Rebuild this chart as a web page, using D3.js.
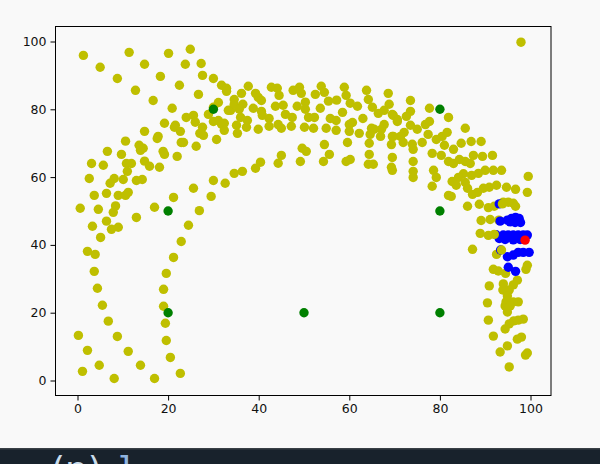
<!DOCTYPE html>
<html>
<head>
<meta charset="utf-8">
<script src="https://cdnjs.cloudflare.com/ajax/libs/d3/7.8.5/d3.min.js"></script>
<style>
html, body { margin: 0; padding: 0; background: #f9f9f9; overflow: hidden; }
svg { display: block; }
text { font-family: "DejaVu Sans", sans-serif; }
</style>
</head>
<body>
<svg id="chart" width="600" height="464"></svg>
<script>
// yellow points under the blue ones
const baseX = [1.3,5.0,8.8,12.8,16.7,20.9,11.4,14.8,18.3,22.5,26.7,20.1,23.8,27.6,24.9,27.3,30.0,31.8,32.9,32.9,31.1,30.0,33.3,28.9,24.0,25.6,26.0,27.6,27.0,27.8,30.0,31.1,31.8,32.4,32.4,30.7,19.2,21.6,21.4,22.7,14.8,10.6,17.8,17.6,22.9,23.4,26.2,22.0,6.6,9.7,13.6,14.5,13.9,18.9,19.2,3.1,5.7,10.8,11.9,11.0,14.8,15.9,18.1,2.6,8.1,7.2,10.1,13.0,14.3,3.7,6.4,9.0,10.6,11.2,30.0,32.6,25.6,21.2,29.5,0.6,4.6,8.4,17.0,26.9,7.9,13.0,6.4,3.3,7.5,9.0,5.1,2.2,3.9,3.7,4.4,5.5,6.8,0.2,8.8,2.2,11.2,4.8,1.1,13.9,8.1,17.0,22.7,20.5,19.6,19.4,19.0,19.0,19.6,21.2,22.9,24.5,37.7,36.2,34.6,33.8,34.6,36.5,35.7,36.0,37.5,37.3,35.1,35.3,39.9,38.8,39.3,39.9,40.6,40.6,40.8,42.3,42.3,44.3,45.0,42.8,44.1,44.5,43.7,45.4,45.9,47.4,47.2,47.6,49.0,49.4,48.5,50.3,50.3,51.0,52.3,50.1,52.1,53.6,52.5,53.8,54.5,55.4,57.2,58.5,55.8,57.1,54.9,57.1,58.9,59.3,60.2,61.8,63.8,64.2,65.1,68.6,68.8,67.7,66.4,69.5,70.6,63.0,60.7,60.0,60.0,62.2,67.7,67.1,64.9,65.5,64.6,66.9,64.4,69.5,69.3,59.6,54.5,49.6,50.5,55.6,45.0,49.2,54.3,44.3,40.4,39.3,36.4,34.6,59.3,60.2,64.4,64.2,65.3,69.5,69.3,69.5,73.5,77.7,81.9,73.5,72.6,69.7,70.6,73.5,75.0,76.8,77.7,72.1,71.3,69.7,71.9,77.4,73.9,76.1,74.1,79.2,80.5,81.6,85.6,81.0,84.7,83.0,86.9,89.1,78.3,80.3,74.1,74.1,74.1,78.6,79.2,78.3,81.9,83.0,84.3,85.6,87.4,86.7,89.4,91.6,90.0,88.5,91.8,93.6,87.0,85.2,84.1,82.7,83.6,85.6,86.1,87.2,82.5,81.9,86.1,88.3,89.6,90.9,92.5,94.7,96.7,99.5,99.3,88.7,90.7,92.0,94.0,95.1,96.2,96.7,89.1,91.1,93.0,88.9,90.7,87.2,92.5,91.8,92.9,94.5,99.0,90.9,94.0,97.1,96.2,95.3,93.9,94.9,90.5,97.3,96.2,94.6,94.4,95.5,94.9,90.7,98.4,97.3,96.3,95.3,94.4,91.8,98.0,97.1,94.9,93.3,99.3,98.9,95.3,97.9];
const baseY = [95.9,92.4,89.1,85.6,82.6,80.3,96.8,93.3,89.7,87.1,84.4,96.5,93.3,90.0,97.7,93.5,89.1,87.1,86.2,85.3,82.0,80.6,79.7,78.5,77.6,78.2,76.2,74.7,72.9,72.3,76.4,76.7,75.6,75.9,73.8,71.1,75.9,75.3,74.7,73.5,73.5,70.6,72.0,71.4,70.2,70.2,69.1,66.1,67.6,66.7,69.4,68.5,67.9,67.6,66.7,64.0,63.5,64.0,64.0,61.7,64.7,63.2,62.9,59.6,59.6,58.2,59.3,59.0,59.3,54.6,55.2,54.6,54.6,55.5,59.0,58.2,56.7,54.0,54.3,50.8,50.5,51.5,51.1,50.1,49.6,48.1,47.0,45.5,44.6,45.2,42.2,38.1,37.2,32.2,27.2,22.2,17.5,13.3,13.0,8.9,8.6,4.5,2.7,4.5,0.6,0.6,2.1,6.8,11.8,16.9,21.9,26.9,31.6,36.3,41.0,45.8,86.8,84.7,82.9,79.7,81.5,81.5,80.0,77.6,76.7,74.7,75.3,72.9,74.1,80.3,84.7,83.5,82.6,79.4,78.2,77.3,75.0,75.5,74.4,86.5,86.2,84.1,80.9,81.2,78.5,77.6,75.0,85.6,86.5,84.7,80.9,82.1,80.0,77.6,77.6,74.7,74.4,80.3,84.4,86.8,85.0,82.4,82.7,79.1,77.3,76.7,74.4,73.8,86.5,84.1,81.8,80.9,85.6,82.9,80.6,84.7,81.5,79.7,78.8,78.5,77.0,77.3,76.1,75.5,73.5,72.9,75.5,74.1,74.4,74.1,72.6,72.0,70.0,72.0,69.6,70.2,69.6,68.5,67.6,66.7,66.4,64.6,64.6,64.1,64.4,62.6,61.7,61.1,64.6,65.2,66.7,63.8,63.8,65.8,62.9,62.0,82.6,80.3,77.6,79.4,77.9,78.2,76.4,75.3,74.1,75.5,76.4,73.2,72.0,72.0,70.2,72.6,69.7,70.2,68.2,71.1,72.0,73.2,74.4,69.4,70.0,68.2,70.5,70.5,67.0,66.4,64.6,61.7,59.9,62.0,59.9,57.3,64.6,64.0,65.2,64.6,66.4,64.0,66.1,66.4,62.0,61.1,62.0,62.0,60.5,61.0,59.9,58.7,57.6,58.4,56.7,54.9,54.3,54.6,51.4,55.5,56.7,57.0,57.6,57.0,56.4,60.2,55.5,52.0,51.0,51.4,52.6,52.6,52.3,51.4,47.2,47.5,47.3,43.4,42.8,38.7,37.2,32.8,32.3,31.6,32.8,27.9,28.5,29.6,28.2,26.7,26.7,24.9,22.9,23.2,23.2,23.2,22.0,22.0,20.2,17.8,18.1,17.8,17.6,16.7,15.2,13.1,12.8,12.2,10.2,8.4,8.1,7.5,4.0,99.8];

// blue cluster
const blueX = [93.1,93.3,94.9,95.8,96.7,97.5,97.8,95.5,96.6,92.4,93.1,94.0,95.1,96.2,97.3,98.4,99.3,94.4,96.2,97.7,93.4,94.9,96.2,97.3,98.4,99.7,95.1,96.7];
const blueY = [52.1,47.0,47.3,47.8,48.1,47.8,46.6,46.8,46.6,43.0,41.9,42.9,42.9,42.9,42.9,42.9,42.9,41.6,41.5,41.6,38.5,36.5,37.0,37.8,37.8,37.8,33.4,32.2];

// yellow points sitting on top of the blue ones
const topX = [93.8,92.0,93.6,99.3];
const topY = [52.1,43.1,38.5,34.0];

const redX = [98.8];
const redY = [41.4];

const greenX = [20,30,80,80,20,50,80];
const greenY = [50,80,80,50,20,20,20];

const xTicks = [0,20,40,60,80,100];
const yTicks = [0,20,40,60,80,100];

const svg = d3.select("#chart");

const boxLeft = 55.5, boxRight = 551, boxTop = 26.5, boxBottom = 395.5;
const pointR = 4.7;

let x = d3.scaleLinear().domain([0,100]).range([77.5,530.5]);
let y = d3.scaleLinear().domain([0,100]).range([380.5,41.5]);

function drawPoints(xs, ys, color, r) {
    svg.append("g")
        .selectAll("circle")
        .data(xs)
        .enter()
        .append("circle")
        .attr("cx", d => x(d))
        .attr("cy", (d,i) => y(ys[i]))
        .attr("r", r)
        .attr("fill", color);
}

drawPoints(baseX, baseY, "#bfbf00", pointR);
drawPoints(blueX, blueY, "#0000ff", pointR);
drawPoints(topX, topY, "#bfbf00", pointR);
drawPoints(redX, redY, "#ff0000", pointR);
drawPoints(greenX, greenY, "#008000", pointR);

// Axes
let xAxis = d3.axisBottom(x).tickValues(xTicks).tickFormat(d3.format("d")).tickSize(5).tickPadding(4);
let yAxis = d3.axisLeft(y).tickValues(yTicks).tickFormat(d3.format("d")).tickSize(5).tickPadding(4);

let gx = svg.append("g").attr("transform", "translate(0," + boxBottom + ")").call(xAxis);
let gy = svg.append("g").attr("transform", "translate(" + boxLeft + ",0)").call(yAxis);
gx.select(".domain").remove();
gy.select(".domain").remove();
svg.selectAll(".tick text").attr("font-size", 12.5).attr("font-family", "DejaVu Sans").attr("fill", "#111");
svg.selectAll(".tick line").attr("stroke", "#000");

svg.append("rect")
    .attr("x", boxLeft).attr("y", boxTop)
    .attr("width", boxRight - boxLeft).attr("height", boxBottom - boxTop)
    .attr("fill", "none").attr("stroke", "#000").attr("stroke-width", 1);

// Dark editor strip cut off at the bottom of the screenshot
svg.append("rect").attr("x", 0).attr("y", 448).attr("width", 600).attr("height", 16).attr("fill", "#18222c");
svg.append("rect").attr("x", 0).attr("y", 448).attr("width", 600).attr("height", 1.5).attr("fill", "#3a4046");
svg.append("text").attr("x", 6).attr("y", 474).attr("font-size", 22).attr("font-family", "DejaVu Sans Mono").attr("fill", "#d9a066").text("==");
svg.append("text").attr("x", 51).attr("y", 482).attr("font-size", 36).attr("font-family", "DejaVu Sans Mono").attr("fill", "#c9dcec").text("(n)");
svg.append("text").attr("x", 117).attr("y", 482).attr("font-size", 36).attr("font-family", "DejaVu Sans Mono").attr("fill", "#8fb4e0").text("]");
</script>
</body>
</html>
